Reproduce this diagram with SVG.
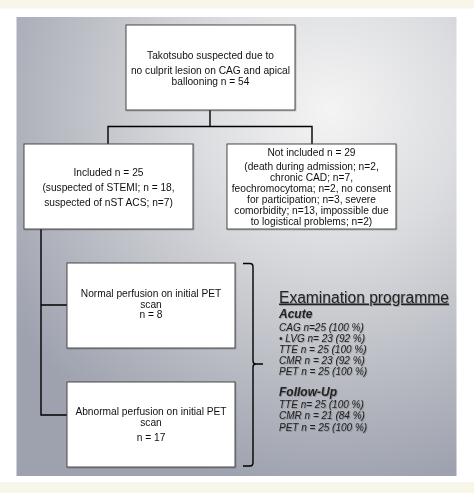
<svg xmlns="http://www.w3.org/2000/svg" width="474" height="493" viewBox="0 0 474 493">
<defs>
<radialGradient id="bg" cx="330" cy="110" r="380" gradientUnits="userSpaceOnUse">
<stop offset="0" stop-color="#f4f4f4"/>
<stop offset="0.35" stop-color="#dcdde0"/>
<stop offset="0.75" stop-color="#b5b8c0"/>
<stop offset="1" stop-color="#9ea2af"/>
</radialGradient>
<filter id="sh" x="-10%" y="-10%" width="130%" height="130%">
<feDropShadow dx="0.8" dy="0.8" stdDeviation="0.7" flood-color="#000" flood-opacity="0.25"/>
</filter>
<filter id="bsh" x="-5%" y="-5%" width="110%" height="110%">
<feDropShadow dx="0.6" dy="0.6" stdDeviation="0.5" flood-color="#000" flood-opacity="0.3"/>
</filter>
</defs>
<style>
.box{fill:#fff;stroke:#4a4a4a;stroke-width:1}
.t{font-family:"Liberation Sans",Arial,sans-serif;font-size:10.2px;fill:#111;text-anchor:middle}
.line{fill:none;stroke:#000;stroke-width:1.4}
.ex{font-family:"Liberation Sans",Arial,sans-serif;fill:#222}
.li{font-size:10px;font-style:italic}
.hd{font-size:12px;font-style:italic;font-weight:bold}
</style>
<rect x="0" y="0" width="474" height="493" fill="#ffffff"/>
<rect x="0" y="0" width="474" height="8.5" fill="#f7f6e9"/>
<rect x="0" y="482" width="474" height="11" fill="#f7f6e9"/>
<rect x="16.5" y="17" width="440" height="459" fill="url(#bg)"/>

<g id="connectors">
<path class="line" d="M210 110 V126.5 M108 144 V126.5 H312 V144"/>
<path class="line" d="M41 229 V415 H67 M41 305 H67"/>
<path class="line" d="M243 263.5 H250 Q253 263.5 253 267 V361 Q253 364 256 364 H263 M256 364 Q253 364 253 367 V462.5 Q253 466 250 466 H243"/>
</g>

<g id="top" filter="url(#bsh)">
<rect class="box" x="126" y="25" width="169" height="85"/>
<text class="t" x="210.5" y="58.5">Takotsubo suspected due to</text>
<text class="t" x="210.5" y="74">no culprit lesion on CAG and apical</text>
<text class="t" x="210.5" y="85">ballooning n = 54</text>
</g>

<g id="included" filter="url(#bsh)">
<rect class="box" x="24" y="144" width="169" height="85"/>
<text class="t" x="108.5" y="175.5">Included n = 25</text>
<text class="t" x="108.5" y="190.5">(suspected of STEMI; n = 18,</text>
<text class="t" x="108.5" y="205.5">suspected of nST ACS; n=7)</text>
</g>

<g id="notincluded" filter="url(#bsh)">
<rect class="box" x="227" y="144" width="169" height="85"/>
<text class="t" x="311.5" y="155.5">Not included n = 29</text>
<text class="t" x="311.5" y="170">(death during admission; n=2,</text>
<text class="t" x="311.5" y="181">chronic CAD; n=7,</text>
<text class="t" x="311.5" y="192">feochromocytoma; n=2, no consent</text>
<text class="t" x="311.5" y="203">for participation; n=3, severe</text>
<text class="t" x="311.5" y="214">comorbidity; n=13, impossible due</text>
<text class="t" x="311.5" y="225">to logistical problems; n=2)</text>
</g>

<g id="normal" filter="url(#bsh)">
<rect class="box" x="67" y="263" width="168" height="85"/>
<text class="t" x="151" y="296.5">Normal perfusion on initial PET</text>
<text class="t" x="151" y="307.5">scan</text>
<text class="t" x="151" y="318">n = 8</text>
</g>

<g id="abnormal" filter="url(#bsh)">
<rect class="box" x="67" y="382" width="168" height="85"/>
<text class="t" x="151" y="414.5">Abnormal perfusion on initial PET</text>
<text class="t" x="151" y="425.5">scan</text>
<text class="t" x="151" y="440.5">n = 17</text>
</g>

<g id="programme" class="ex" filter="url(#sh)">
<text x="279" y="302.5" font-size="15.6" text-decoration="underline">Examination programme</text>
<text class="hd" x="279" y="317.5">Acute</text>
<text class="li" x="279" y="330.5">CAG n=25 (100 %)</text>
<text class="li" x="279" y="341.5">• LVG n= 23 (92 %)</text>
<text class="li" x="279" y="352.5">TTE n = 25 (100 %)</text>
<text class="li" x="279" y="363.5">CMR n = 23 (92 %)</text>
<text class="li" x="279" y="374.5">PET n = 25 (100 %)</text>
<text class="hd" x="279" y="395.5">Follow-Up</text>
<text class="li" x="279" y="407.5">TTE n= 25 (100 %)</text>
<text class="li" x="279" y="418.5">CMR n = 21 (84 %)</text>
<text class="li" x="279" y="430.5">PET n = 25 (100 %)</text>
</g>
</svg>
